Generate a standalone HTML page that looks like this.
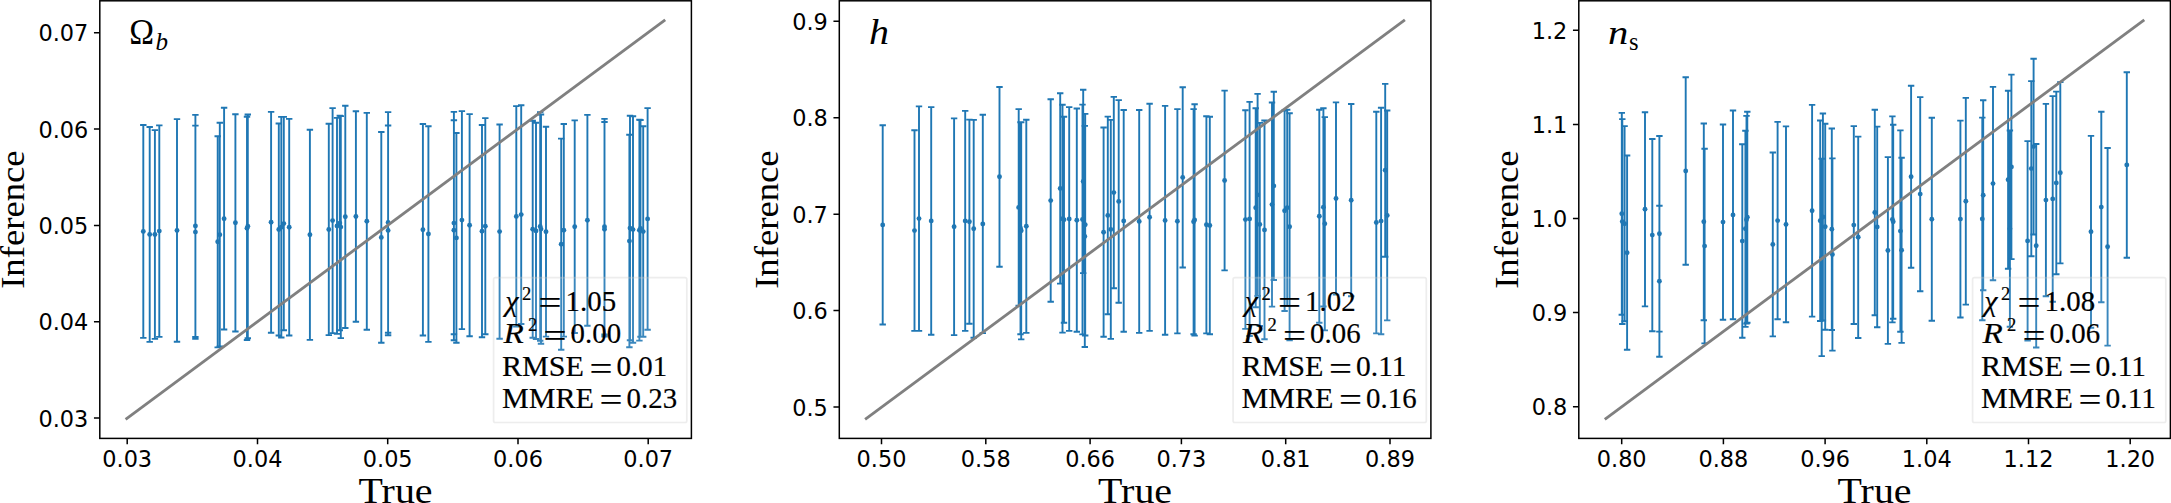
<!DOCTYPE html>
<html><head><meta charset="utf-8"><title>Inference vs True</title>
<style>html,body{margin:0;padding:0;background:#fff}svg{display:block}</style>
</head><body>
<svg width="2171" height="503" viewBox="0 0 2171 503">
<rect width="2171" height="503" fill="#fff"/>
<g>
<path d="M143.3 125.0V337.9M149.7 127.0V341.9M154.9 130.1V338.9M159.3 125.4V336.9M177.0 119.1V341.7M195.4 114.9V336.9M195.4 125.6V338.7M217.7 136.2V347.4M219.8 122.8V346.5M224.1 107.8V329.5M235.4 114.2V331.5M247.0 116.7V340.0M247.8 114.5V338.2M271.1 111.9V332.7M278.8 123.5V335.5M281.3 116.9V337.5M283.8 116.9V330.2M289.2 118.9V335.5M309.9 129.8V339.9M328.8 123.8V335.1M332.6 108.1V333.1M337.0 117.9V333.9M339.8 115.8V330.3M340.8 116.1V338.1M345.3 105.7V328.0M355.9 111.3V321.7M366.8 112.9V329.7M381.3 132.0V342.8M388.1 112.1V332.7M388.1 125.5V335.3M422.9 124.0V335.5M428.4 126.2V341.9M453.9 111.9V334.2M453.9 120.3V340.3M456.4 133.0V342.8M461.9 111.1V329.1M469.6 114.1V336.3M482.0 125.0V337.3M485.3 118.1V334.3M499.6 124.5V338.7M516.3 106.1V326.6M521.2 105.2V324.0M532.7 120.8V337.7M536.0 122.8V339.0M540.2 112.1V340.8M541.0 114.5V343.7M546.0 126.7V336.6M561.2 138.6V349.8M563.8 124.0V336.6M574.7 120.4V333.0M587.4 114.9V325.7M604.5 118.9V334.5M604.5 122.0V336.5M629.4 134.8V347.3M630.0 115.8V340.3M633.0 116.3V342.8M639.4 119.7V340.6M640.5 120.0V336.8M643.2 126.3V336.8M647.6 108.1V329.7" stroke="#1f77b4" stroke-width="1.9" fill="none"/>
<path d="M140.10 125.0h6.4M140.10 337.9h6.4M146.50 127.0h6.4M146.50 341.9h6.4M151.70 130.1h6.4M151.70 338.9h6.4M156.10 125.4h6.4M156.10 336.9h6.4M173.80 119.1h6.4M173.80 341.7h6.4M192.20 114.9h6.4M192.20 336.9h6.4M192.20 125.6h6.4M192.20 338.7h6.4M214.50 136.2h6.4M214.50 347.4h6.4M216.60 122.8h6.4M216.60 346.5h6.4M220.90 107.8h6.4M220.90 329.5h6.4M232.20 114.2h6.4M232.20 331.5h6.4M243.80 116.7h6.4M243.80 340.0h6.4M244.60 114.5h6.4M244.60 338.2h6.4M267.90 111.9h6.4M267.90 332.7h6.4M275.60 123.5h6.4M275.60 335.5h6.4M278.10 116.9h6.4M278.10 337.5h6.4M280.60 116.9h6.4M280.60 330.2h6.4M286.00 118.9h6.4M286.00 335.5h6.4M306.70 129.8h6.4M306.70 339.9h6.4M325.60 123.8h6.4M325.60 335.1h6.4M329.40 108.1h6.4M329.40 333.1h6.4M333.80 117.9h6.4M333.80 333.9h6.4M336.60 115.8h6.4M336.60 330.3h6.4M337.60 116.1h6.4M337.60 338.1h6.4M342.10 105.7h6.4M342.10 328.0h6.4M352.70 111.3h6.4M352.70 321.7h6.4M363.60 112.9h6.4M363.60 329.7h6.4M378.10 132.0h6.4M378.10 342.8h6.4M384.90 112.1h6.4M384.90 332.7h6.4M384.90 125.5h6.4M384.90 335.3h6.4M419.70 124.0h6.4M419.70 335.5h6.4M425.20 126.2h6.4M425.20 341.9h6.4M450.70 111.9h6.4M450.70 334.2h6.4M450.70 120.3h6.4M450.70 340.3h6.4M453.20 133.0h6.4M453.20 342.8h6.4M458.70 111.1h6.4M458.70 329.1h6.4M466.40 114.1h6.4M466.40 336.3h6.4M478.80 125.0h6.4M478.80 337.3h6.4M482.10 118.1h6.4M482.10 334.3h6.4M496.40 124.5h6.4M496.40 338.7h6.4M513.10 106.1h6.4M513.10 326.6h6.4M518.00 105.2h6.4M518.00 324.0h6.4M529.50 120.8h6.4M529.50 337.7h6.4M532.80 122.8h6.4M532.80 339.0h6.4M537.00 112.1h6.4M537.00 340.8h6.4M537.80 114.5h6.4M537.80 343.7h6.4M542.80 126.7h6.4M542.80 336.6h6.4M558.00 138.6h6.4M558.00 349.8h6.4M560.60 124.0h6.4M560.60 336.6h6.4M571.50 120.4h6.4M571.50 333.0h6.4M584.20 114.9h6.4M584.20 325.7h6.4M601.30 118.9h6.4M601.30 334.5h6.4M601.30 122.0h6.4M601.30 336.5h6.4M626.20 134.8h6.4M626.20 347.3h6.4M626.80 115.8h6.4M626.80 340.3h6.4M629.80 116.3h6.4M629.80 342.8h6.4M636.20 119.7h6.4M636.20 340.6h6.4M637.30 120.0h6.4M637.30 336.8h6.4M640.00 126.3h6.4M640.00 336.8h6.4M644.40 108.1h6.4M644.40 329.7h6.4" stroke="#1f77b4" stroke-width="1.9" fill="none"/>
<g fill="#1f77b4"><circle cx="143.3" cy="231.4" r="2.45"/><circle cx="149.7" cy="234.4" r="2.45"/><circle cx="154.9" cy="234.5" r="2.45"/><circle cx="159.3" cy="231.1" r="2.45"/><circle cx="177.0" cy="230.4" r="2.45"/><circle cx="195.4" cy="225.9" r="2.45"/><circle cx="195.4" cy="232.1" r="2.45"/><circle cx="217.7" cy="241.8" r="2.45"/><circle cx="219.8" cy="234.7" r="2.45"/><circle cx="224.1" cy="218.7" r="2.45"/><circle cx="235.4" cy="222.8" r="2.45"/><circle cx="247.0" cy="228.3" r="2.45"/><circle cx="247.8" cy="226.3" r="2.45"/><circle cx="271.1" cy="222.3" r="2.45"/><circle cx="278.8" cy="229.5" r="2.45"/><circle cx="281.3" cy="227.2" r="2.45"/><circle cx="283.8" cy="223.6" r="2.45"/><circle cx="289.2" cy="227.2" r="2.45"/><circle cx="309.9" cy="234.8" r="2.45"/><circle cx="328.8" cy="229.5" r="2.45"/><circle cx="332.6" cy="220.6" r="2.45"/><circle cx="337.0" cy="225.9" r="2.45"/><circle cx="339.8" cy="223.1" r="2.45"/><circle cx="340.8" cy="227.1" r="2.45"/><circle cx="345.3" cy="216.8" r="2.45"/><circle cx="355.9" cy="216.5" r="2.45"/><circle cx="366.8" cy="221.3" r="2.45"/><circle cx="381.3" cy="237.4" r="2.45"/><circle cx="388.1" cy="222.4" r="2.45"/><circle cx="388.1" cy="230.4" r="2.45"/><circle cx="422.9" cy="229.8" r="2.45"/><circle cx="428.4" cy="234.0" r="2.45"/><circle cx="453.9" cy="223.1" r="2.45"/><circle cx="453.9" cy="230.3" r="2.45"/><circle cx="456.4" cy="237.9" r="2.45"/><circle cx="461.9" cy="220.1" r="2.45"/><circle cx="469.6" cy="225.2" r="2.45"/><circle cx="482.0" cy="231.2" r="2.45"/><circle cx="485.3" cy="226.2" r="2.45"/><circle cx="499.6" cy="231.6" r="2.45"/><circle cx="516.3" cy="216.4" r="2.45"/><circle cx="521.2" cy="214.6" r="2.45"/><circle cx="532.7" cy="229.2" r="2.45"/><circle cx="536.0" cy="230.9" r="2.45"/><circle cx="540.2" cy="226.4" r="2.45"/><circle cx="541.0" cy="229.1" r="2.45"/><circle cx="546.0" cy="231.7" r="2.45"/><circle cx="561.2" cy="244.2" r="2.45"/><circle cx="563.8" cy="230.3" r="2.45"/><circle cx="574.7" cy="226.7" r="2.45"/><circle cx="587.4" cy="220.3" r="2.45"/><circle cx="604.5" cy="226.7" r="2.45"/><circle cx="604.5" cy="229.2" r="2.45"/><circle cx="629.4" cy="241.1" r="2.45"/><circle cx="630.0" cy="228.1" r="2.45"/><circle cx="633.0" cy="229.6" r="2.45"/><circle cx="639.4" cy="230.2" r="2.45"/><circle cx="640.5" cy="228.4" r="2.45"/><circle cx="643.2" cy="231.6" r="2.45"/><circle cx="647.6" cy="218.9" r="2.45"/></g>
<line x1="125.6" y1="419.3" x2="665.2" y2="19.9" stroke="#808080" stroke-width="2.85" stroke-linecap="butt"/>
<rect x="493.6" y="277.7" width="193.2" height="144.8" rx="1.8" fill="#fff" fill-opacity="0.12" stroke="#cccccc" stroke-opacity="0.36" stroke-width="1.7"/>
<rect x="99.80" y="0.8" width="591.60" height="437.60" fill="none" stroke="#000" stroke-width="1.5"/>
<path d="M127.20 438.4v5.85M257.50 438.4v5.85M387.70 438.4v5.85M518.00 438.4v5.85M648.20 438.4v5.85M99.80 32.70h-5.85M99.80 129.05h-5.85M99.80 225.40h-5.85M99.80 321.75h-5.85M99.80 418.10h-5.85" stroke="#000" stroke-width="1.5" fill="none"/>
<text x="127.20" y="467.20" font-size="22.4" font-family="'DejaVu Sans', 'Liberation Sans', sans-serif" text-anchor="middle">0.03</text>
<text x="257.50" y="467.20" font-size="22.4" font-family="'DejaVu Sans', 'Liberation Sans', sans-serif" text-anchor="middle">0.04</text>
<text x="387.70" y="467.20" font-size="22.4" font-family="'DejaVu Sans', 'Liberation Sans', sans-serif" text-anchor="middle">0.05</text>
<text x="518.00" y="467.20" font-size="22.4" font-family="'DejaVu Sans', 'Liberation Sans', sans-serif" text-anchor="middle">0.06</text>
<text x="648.20" y="467.20" font-size="22.4" font-family="'DejaVu Sans', 'Liberation Sans', sans-serif" text-anchor="middle">0.07</text>
<text x="88.30" y="41.20" font-size="22.4" font-family="'DejaVu Sans', 'Liberation Sans', sans-serif" text-anchor="end">0.07</text>
<text x="88.30" y="137.55" font-size="22.4" font-family="'DejaVu Sans', 'Liberation Sans', sans-serif" text-anchor="end">0.06</text>
<text x="88.30" y="233.90" font-size="22.4" font-family="'DejaVu Sans', 'Liberation Sans', sans-serif" text-anchor="end">0.05</text>
<text x="88.30" y="330.25" font-size="22.4" font-family="'DejaVu Sans', 'Liberation Sans', sans-serif" text-anchor="end">0.04</text>
<text x="88.30" y="426.60" font-size="22.4" font-family="'DejaVu Sans', 'Liberation Sans', sans-serif" text-anchor="end">0.03</text>
<text x="395.60" y="503.00" font-size="35.0" font-family="'Liberation Serif', serif" text-anchor="middle" textLength="74.00" lengthAdjust="spacingAndGlyphs">True</text>
<text transform="translate(24.30 219.6) rotate(-90)" font-size="34.2" font-family="'Liberation Serif', serif" text-anchor="middle" textLength="138.5" lengthAdjust="spacingAndGlyphs">Inference</text>
<text x="505.20" y="310.60" font-size="28.6" font-family="'Liberation Serif', serif" text-anchor="start" font-style="italic" textLength="13.30" lengthAdjust="spacingAndGlyphs" stroke="#000" stroke-width="0.18">χ</text>
<text x="522.00" y="299.90" font-size="18.6" font-family="'Liberation Serif', serif" text-anchor="start" stroke="#000" stroke-width="0.18">2</text>
<text x="538.40" y="314.40" font-size="33" font-family="'Liberation Serif', serif" text-anchor="start" textLength="23.00" lengthAdjust="spacingAndGlyphs" stroke="#000" stroke-width="0.18">=</text>
<text x="565.60" y="310.60" font-size="28.6" font-family="'Liberation Serif', serif" text-anchor="start" textLength="50.50" lengthAdjust="spacingAndGlyphs" stroke="#000" stroke-width="0.18">1.05</text>
<text x="503.40" y="343.30" font-size="29" font-family="'Liberation Serif', serif" text-anchor="start" font-style="italic" textLength="20.30" lengthAdjust="spacingAndGlyphs" stroke="#000" stroke-width="0.18">R</text>
<text x="528.00" y="331.20" font-size="18.6" font-family="'Liberation Serif', serif" text-anchor="start" stroke="#000" stroke-width="0.18">2</text>
<text x="543.50" y="347.10" font-size="33" font-family="'Liberation Serif', serif" text-anchor="start" textLength="23.00" lengthAdjust="spacingAndGlyphs" stroke="#000" stroke-width="0.18">=</text>
<text x="570.60" y="343.30" font-size="28.6" font-family="'Liberation Serif', serif" text-anchor="start" textLength="50.50" lengthAdjust="spacingAndGlyphs" stroke="#000" stroke-width="0.18">0.00</text>
<text x="502.00" y="376.00" font-size="28.6" font-family="'Liberation Serif', serif" text-anchor="start" textLength="82.00" lengthAdjust="spacingAndGlyphs" stroke="#000" stroke-width="0.18">RMSE</text>
<text x="589.60" y="379.80" font-size="33" font-family="'Liberation Serif', serif" text-anchor="start" textLength="23.00" lengthAdjust="spacingAndGlyphs" stroke="#000" stroke-width="0.18">=</text>
<text x="616.60" y="376.00" font-size="28.6" font-family="'Liberation Serif', serif" text-anchor="start" textLength="50.50" lengthAdjust="spacingAndGlyphs" stroke="#000" stroke-width="0.18">0.01</text>
<text x="502.00" y="407.60" font-size="28.6" font-family="'Liberation Serif', serif" text-anchor="start" textLength="92.00" lengthAdjust="spacingAndGlyphs" stroke="#000" stroke-width="0.18">MMRE</text>
<text x="599.40" y="411.40" font-size="33" font-family="'Liberation Serif', serif" text-anchor="start" textLength="23.00" lengthAdjust="spacingAndGlyphs" stroke="#000" stroke-width="0.18">=</text>
<text x="626.60" y="407.60" font-size="28.6" font-family="'Liberation Serif', serif" text-anchor="start" textLength="50.50" lengthAdjust="spacingAndGlyphs" stroke="#000" stroke-width="0.18">0.23</text>
</g>
<g>
<path d="M882.7 125.3V324.5M914.5 130.3V330.9M919.0 106.4V330.9M931.2 107.1V334.8M954.1 118.4V335.1M965.2 110.9V330.9M969.4 119.6V323.8M973.7 119.9V337.7M982.8 114.8V333.1M999.5 87.0V266.7M1018.7 109.1V305.6M1020.5 122.3V334.3M1021.2 122.3V339.4M1026.3 119.7V332.9M1050.7 99.3V301.8M1060.2 93.2V283.6M1062.5 104.7V332.6M1064.0 116.7V322.8M1069.2 107.1V330.9M1076.8 108.5V331.8M1083.2 89.7V273.1M1082.5 104.6V334.4M1085.2 113.9V335.5M1084.8 125.9V347.0M1103.6 127.5V336.8M1107.8 116.6V314.3M1110.8 119.9V338.9M1113.8 96.9V288.2M1118.7 100.1V302.7M1123.7 110.0V331.8M1139.2 110.0V332.9M1149.6 103.7V330.9M1165.1 105.9V334.8M1177.4 109.1V333.4M1182.7 87.3V267.5M1193.6 109.1V334.3M1194.6 104.3V335.6M1206.4 116.3V333.4M1209.8 116.7V334.3M1224.6 90.6V270.4M1245.4 110.3V328.9M1249.6 101.9V336.0M1255.7 108.3V307.3M1257.6 93.9V295.9M1259.8 122.9V326.0M1264.5 120.5V339.3M1272.0 102.5V306.6M1273.8 91.8V280.0M1284.6 110.5V311.0M1287.2 109.7V305.9M1289.6 113.3V340.4M1319.3 109.8V322.8M1323.4 108.2V306.5M1324.8 117.1V330.4M1336.0 102.4V294.6M1351.2 104.0V296.3M1376.3 111.7V333.4M1381.1 107.8V334.3M1385.2 83.9V256.7M1387.2 110.5V320.4" stroke="#1f77b4" stroke-width="1.9" fill="none"/>
<path d="M879.50 125.3h6.4M879.50 324.5h6.4M911.30 130.3h6.4M911.30 330.9h6.4M915.80 106.4h6.4M915.80 330.9h6.4M928.00 107.1h6.4M928.00 334.8h6.4M950.90 118.4h6.4M950.90 335.1h6.4M962.00 110.9h6.4M962.00 330.9h6.4M966.20 119.6h6.4M966.20 323.8h6.4M970.50 119.9h6.4M970.50 337.7h6.4M979.60 114.8h6.4M979.60 333.1h6.4M996.30 87.0h6.4M996.30 266.7h6.4M1015.50 109.1h6.4M1015.50 305.6h6.4M1017.30 122.3h6.4M1017.30 334.3h6.4M1018.00 122.3h6.4M1018.00 339.4h6.4M1023.10 119.7h6.4M1023.10 332.9h6.4M1047.50 99.3h6.4M1047.50 301.8h6.4M1057.00 93.2h6.4M1057.00 283.6h6.4M1059.30 104.7h6.4M1059.30 332.6h6.4M1060.80 116.7h6.4M1060.80 322.8h6.4M1066.00 107.1h6.4M1066.00 330.9h6.4M1073.60 108.5h6.4M1073.60 331.8h6.4M1080.00 89.7h6.4M1080.00 273.1h6.4M1079.30 104.6h6.4M1079.30 334.4h6.4M1082.00 113.9h6.4M1082.00 335.5h6.4M1081.60 125.9h6.4M1081.60 347.0h6.4M1100.40 127.5h6.4M1100.40 336.8h6.4M1104.60 116.6h6.4M1104.60 314.3h6.4M1107.60 119.9h6.4M1107.60 338.9h6.4M1110.60 96.9h6.4M1110.60 288.2h6.4M1115.50 100.1h6.4M1115.50 302.7h6.4M1120.50 110.0h6.4M1120.50 331.8h6.4M1136.00 110.0h6.4M1136.00 332.9h6.4M1146.40 103.7h6.4M1146.40 330.9h6.4M1161.90 105.9h6.4M1161.90 334.8h6.4M1174.20 109.1h6.4M1174.20 333.4h6.4M1179.50 87.3h6.4M1179.50 267.5h6.4M1190.40 109.1h6.4M1190.40 334.3h6.4M1191.40 104.3h6.4M1191.40 335.6h6.4M1203.20 116.3h6.4M1203.20 333.4h6.4M1206.60 116.7h6.4M1206.60 334.3h6.4M1221.40 90.6h6.4M1221.40 270.4h6.4M1242.20 110.3h6.4M1242.20 328.9h6.4M1246.40 101.9h6.4M1246.40 336.0h6.4M1252.50 108.3h6.4M1252.50 307.3h6.4M1254.40 93.9h6.4M1254.40 295.9h6.4M1256.60 122.9h6.4M1256.60 326.0h6.4M1261.30 120.5h6.4M1261.30 339.3h6.4M1268.80 102.5h6.4M1268.80 306.6h6.4M1270.60 91.8h6.4M1270.60 280.0h6.4M1281.40 110.5h6.4M1281.40 311.0h6.4M1284.00 109.7h6.4M1284.00 305.9h6.4M1286.40 113.3h6.4M1286.40 340.4h6.4M1316.10 109.8h6.4M1316.10 322.8h6.4M1320.20 108.2h6.4M1320.20 306.5h6.4M1321.60 117.1h6.4M1321.60 330.4h6.4M1332.80 102.4h6.4M1332.80 294.6h6.4M1348.00 104.0h6.4M1348.00 296.3h6.4M1373.10 111.7h6.4M1373.10 333.4h6.4M1377.90 107.8h6.4M1377.90 334.3h6.4M1382.00 83.9h6.4M1382.00 256.7h6.4M1384.00 110.5h6.4M1384.00 320.4h6.4" stroke="#1f77b4" stroke-width="1.9" fill="none"/>
<g fill="#1f77b4"><circle cx="882.7" cy="224.9" r="2.45"/><circle cx="914.5" cy="230.6" r="2.45"/><circle cx="919.0" cy="218.6" r="2.45"/><circle cx="931.2" cy="220.9" r="2.45"/><circle cx="954.1" cy="226.8" r="2.45"/><circle cx="965.2" cy="220.9" r="2.45"/><circle cx="969.4" cy="221.7" r="2.45"/><circle cx="973.7" cy="228.8" r="2.45"/><circle cx="982.8" cy="224.0" r="2.45"/><circle cx="999.5" cy="176.8" r="2.45"/><circle cx="1018.7" cy="207.4" r="2.45"/><circle cx="1020.5" cy="228.3" r="2.45"/><circle cx="1021.2" cy="230.8" r="2.45"/><circle cx="1026.3" cy="226.3" r="2.45"/><circle cx="1050.7" cy="200.6" r="2.45"/><circle cx="1060.2" cy="188.4" r="2.45"/><circle cx="1062.5" cy="218.7" r="2.45"/><circle cx="1064.0" cy="219.8" r="2.45"/><circle cx="1069.2" cy="219.0" r="2.45"/><circle cx="1076.8" cy="220.2" r="2.45"/><circle cx="1083.2" cy="181.4" r="2.45"/><circle cx="1082.5" cy="219.5" r="2.45"/><circle cx="1085.2" cy="224.7" r="2.45"/><circle cx="1084.8" cy="236.4" r="2.45"/><circle cx="1103.6" cy="232.2" r="2.45"/><circle cx="1107.8" cy="215.4" r="2.45"/><circle cx="1110.8" cy="229.4" r="2.45"/><circle cx="1113.8" cy="192.6" r="2.45"/><circle cx="1118.7" cy="201.4" r="2.45"/><circle cx="1123.7" cy="220.9" r="2.45"/><circle cx="1139.2" cy="221.4" r="2.45"/><circle cx="1149.6" cy="217.3" r="2.45"/><circle cx="1165.1" cy="220.4" r="2.45"/><circle cx="1177.4" cy="221.2" r="2.45"/><circle cx="1182.7" cy="177.4" r="2.45"/><circle cx="1193.6" cy="221.7" r="2.45"/><circle cx="1194.6" cy="220.0" r="2.45"/><circle cx="1206.4" cy="224.8" r="2.45"/><circle cx="1209.8" cy="225.5" r="2.45"/><circle cx="1224.6" cy="180.5" r="2.45"/><circle cx="1245.4" cy="219.6" r="2.45"/><circle cx="1249.6" cy="218.9" r="2.45"/><circle cx="1255.7" cy="207.8" r="2.45"/><circle cx="1257.6" cy="194.9" r="2.45"/><circle cx="1259.8" cy="224.4" r="2.45"/><circle cx="1264.5" cy="229.9" r="2.45"/><circle cx="1272.0" cy="204.6" r="2.45"/><circle cx="1273.8" cy="185.9" r="2.45"/><circle cx="1284.6" cy="210.8" r="2.45"/><circle cx="1287.2" cy="207.8" r="2.45"/><circle cx="1289.6" cy="226.8" r="2.45"/><circle cx="1319.3" cy="216.3" r="2.45"/><circle cx="1323.4" cy="207.3" r="2.45"/><circle cx="1324.8" cy="223.8" r="2.45"/><circle cx="1336.0" cy="198.5" r="2.45"/><circle cx="1351.2" cy="200.2" r="2.45"/><circle cx="1376.3" cy="222.5" r="2.45"/><circle cx="1381.1" cy="221.1" r="2.45"/><circle cx="1385.2" cy="170.3" r="2.45"/><circle cx="1387.2" cy="215.4" r="2.45"/></g>
<line x1="865.1" y1="419.3" x2="1404.9" y2="19.9" stroke="#808080" stroke-width="2.85" stroke-linecap="butt"/>
<rect x="1233.1" y="277.7" width="193.2" height="144.8" rx="1.8" fill="#fff" fill-opacity="0.12" stroke="#cccccc" stroke-opacity="0.36" stroke-width="1.7"/>
<rect x="839.30" y="0.8" width="591.60" height="437.60" fill="none" stroke="#000" stroke-width="1.5"/>
<path d="M881.50 438.4v5.85M985.80 438.4v5.85M1090.10 438.4v5.85M1181.40 438.4v5.85M1285.70 438.4v5.85M1390.00 438.4v5.85M839.30 21.20h-5.85M839.30 117.70h-5.85M839.30 214.20h-5.85M839.30 310.60h-5.85M839.30 407.10h-5.85" stroke="#000" stroke-width="1.5" fill="none"/>
<text x="881.50" y="467.20" font-size="22.4" font-family="'DejaVu Sans', 'Liberation Sans', sans-serif" text-anchor="middle">0.50</text>
<text x="985.80" y="467.20" font-size="22.4" font-family="'DejaVu Sans', 'Liberation Sans', sans-serif" text-anchor="middle">0.58</text>
<text x="1090.10" y="467.20" font-size="22.4" font-family="'DejaVu Sans', 'Liberation Sans', sans-serif" text-anchor="middle">0.66</text>
<text x="1181.40" y="467.20" font-size="22.4" font-family="'DejaVu Sans', 'Liberation Sans', sans-serif" text-anchor="middle">0.73</text>
<text x="1285.70" y="467.20" font-size="22.4" font-family="'DejaVu Sans', 'Liberation Sans', sans-serif" text-anchor="middle">0.81</text>
<text x="1390.00" y="467.20" font-size="22.4" font-family="'DejaVu Sans', 'Liberation Sans', sans-serif" text-anchor="middle">0.89</text>
<text x="827.80" y="29.70" font-size="22.4" font-family="'DejaVu Sans', 'Liberation Sans', sans-serif" text-anchor="end">0.9</text>
<text x="827.80" y="126.20" font-size="22.4" font-family="'DejaVu Sans', 'Liberation Sans', sans-serif" text-anchor="end">0.8</text>
<text x="827.80" y="222.70" font-size="22.4" font-family="'DejaVu Sans', 'Liberation Sans', sans-serif" text-anchor="end">0.7</text>
<text x="827.80" y="319.10" font-size="22.4" font-family="'DejaVu Sans', 'Liberation Sans', sans-serif" text-anchor="end">0.6</text>
<text x="827.80" y="415.60" font-size="22.4" font-family="'DejaVu Sans', 'Liberation Sans', sans-serif" text-anchor="end">0.5</text>
<text x="1135.10" y="503.00" font-size="35.0" font-family="'Liberation Serif', serif" text-anchor="middle" textLength="74.00" lengthAdjust="spacingAndGlyphs">True</text>
<text transform="translate(778.10 219.6) rotate(-90)" font-size="34.2" font-family="'Liberation Serif', serif" text-anchor="middle" textLength="138.5" lengthAdjust="spacingAndGlyphs">Inference</text>
<text x="1244.70" y="310.60" font-size="28.6" font-family="'Liberation Serif', serif" text-anchor="start" font-style="italic" textLength="13.30" lengthAdjust="spacingAndGlyphs" stroke="#000" stroke-width="0.18">χ</text>
<text x="1261.50" y="299.90" font-size="18.6" font-family="'Liberation Serif', serif" text-anchor="start" stroke="#000" stroke-width="0.18">2</text>
<text x="1277.90" y="314.40" font-size="33" font-family="'Liberation Serif', serif" text-anchor="start" textLength="23.00" lengthAdjust="spacingAndGlyphs" stroke="#000" stroke-width="0.18">=</text>
<text x="1305.10" y="310.60" font-size="28.6" font-family="'Liberation Serif', serif" text-anchor="start" textLength="50.50" lengthAdjust="spacingAndGlyphs" stroke="#000" stroke-width="0.18">1.02</text>
<text x="1242.90" y="343.30" font-size="29" font-family="'Liberation Serif', serif" text-anchor="start" font-style="italic" textLength="20.30" lengthAdjust="spacingAndGlyphs" stroke="#000" stroke-width="0.18">R</text>
<text x="1267.50" y="331.20" font-size="18.6" font-family="'Liberation Serif', serif" text-anchor="start" stroke="#000" stroke-width="0.18">2</text>
<text x="1283.00" y="347.10" font-size="33" font-family="'Liberation Serif', serif" text-anchor="start" textLength="23.00" lengthAdjust="spacingAndGlyphs" stroke="#000" stroke-width="0.18">=</text>
<text x="1310.10" y="343.30" font-size="28.6" font-family="'Liberation Serif', serif" text-anchor="start" textLength="50.50" lengthAdjust="spacingAndGlyphs" stroke="#000" stroke-width="0.18">0.06</text>
<text x="1241.50" y="376.00" font-size="28.6" font-family="'Liberation Serif', serif" text-anchor="start" textLength="82.00" lengthAdjust="spacingAndGlyphs" stroke="#000" stroke-width="0.18">RMSE</text>
<text x="1329.10" y="379.80" font-size="33" font-family="'Liberation Serif', serif" text-anchor="start" textLength="23.00" lengthAdjust="spacingAndGlyphs" stroke="#000" stroke-width="0.18">=</text>
<text x="1356.10" y="376.00" font-size="28.6" font-family="'Liberation Serif', serif" text-anchor="start" textLength="50.50" lengthAdjust="spacingAndGlyphs" stroke="#000" stroke-width="0.18">0.11</text>
<text x="1241.50" y="407.60" font-size="28.6" font-family="'Liberation Serif', serif" text-anchor="start" textLength="92.00" lengthAdjust="spacingAndGlyphs" stroke="#000" stroke-width="0.18">MMRE</text>
<text x="1338.90" y="411.40" font-size="33" font-family="'Liberation Serif', serif" text-anchor="start" textLength="23.00" lengthAdjust="spacingAndGlyphs" stroke="#000" stroke-width="0.18">=</text>
<text x="1366.10" y="407.60" font-size="28.6" font-family="'Liberation Serif', serif" text-anchor="start" textLength="50.50" lengthAdjust="spacingAndGlyphs" stroke="#000" stroke-width="0.18">0.16</text>
</g>
<g>
<path d="M1621.8 112.9V314.7M1622.3 119.1V324.0M1624.6 126.1V321.3M1627.1 155.5V349.8M1645.0 112.3V306.4M1652.3 139.0V331.2M1659.4 136.0V331.6M1659.4 205.8V356.7M1685.7 77.3V264.7M1703.8 123.5V320.2M1704.6 148.8V343.4M1723.0 124.5V319.7M1733.0 110.5V319.3M1742.3 144.3V337.8M1745.4 130.8V326.9M1746.5 115.9V323.5M1747.3 111.7V322.8M1772.8 152.5V336.4M1777.6 121.9V319.3M1786.0 126.4V322.3M1812.1 104.9V316.6M1820.2 120.5V321.0M1821.7 158.7V356.1M1822.9 113.5V320.5M1825.2 123.8V329.8M1831.8 128.5V330.0M1832.4 158.4V350.6M1853.8 126.1V324.0M1858.2 136.6V338.0M1874.8 109.7V315.3M1877.2 126.6V327.3M1887.9 157.1V343.9M1892.4 116.4V322.4M1893.2 124.8V318.8M1900.4 130.4V331.7M1901.6 157.8V342.9M1911.1 85.7V267.8M1920.2 97.1V291.2M1931.8 117.8V320.8M1960.4 120.6V317.5M1965.8 97.9V304.6M1982.3 117.6V320.3M1983.2 100.3V290.2M1993.0 86.9V280.3M2008.1 90.7V268.8M2009.9 130.5V326.8M2011.4 74.6V259.1M2027.6 141.1V340.6M2031.3 81.1V256.2M2033.6 58.7V234.5M2036.2 144.0V347.5M2045.9 103.9V296.3M2052.7 96.1V301.8M2056.3 91.6V274.3M2060.3 82.1V263.4M2091.0 135.9V327.7M2101.3 111.8V302.3M2107.6 148.0V345.6M2126.8 72.2V257.7" stroke="#1f77b4" stroke-width="1.9" fill="none"/>
<path d="M1618.60 112.9h6.4M1618.60 314.7h6.4M1619.10 119.1h6.4M1619.10 324.0h6.4M1621.40 126.1h6.4M1621.40 321.3h6.4M1623.90 155.5h6.4M1623.90 349.8h6.4M1641.80 112.3h6.4M1641.80 306.4h6.4M1649.10 139.0h6.4M1649.10 331.2h6.4M1656.20 136.0h6.4M1656.20 331.6h6.4M1656.20 205.8h6.4M1656.20 356.7h6.4M1682.50 77.3h6.4M1682.50 264.7h6.4M1700.60 123.5h6.4M1700.60 320.2h6.4M1701.40 148.8h6.4M1701.40 343.4h6.4M1719.80 124.5h6.4M1719.80 319.7h6.4M1729.80 110.5h6.4M1729.80 319.3h6.4M1739.10 144.3h6.4M1739.10 337.8h6.4M1742.20 130.8h6.4M1742.20 326.9h6.4M1743.30 115.9h6.4M1743.30 323.5h6.4M1744.10 111.7h6.4M1744.10 322.8h6.4M1769.60 152.5h6.4M1769.60 336.4h6.4M1774.40 121.9h6.4M1774.40 319.3h6.4M1782.80 126.4h6.4M1782.80 322.3h6.4M1808.90 104.9h6.4M1808.90 316.6h6.4M1817.00 120.5h6.4M1817.00 321.0h6.4M1818.50 158.7h6.4M1818.50 356.1h6.4M1819.70 113.5h6.4M1819.70 320.5h6.4M1822.00 123.8h6.4M1822.00 329.8h6.4M1828.60 128.5h6.4M1828.60 330.0h6.4M1829.20 158.4h6.4M1829.20 350.6h6.4M1850.60 126.1h6.4M1850.60 324.0h6.4M1855.00 136.6h6.4M1855.00 338.0h6.4M1871.60 109.7h6.4M1871.60 315.3h6.4M1874.00 126.6h6.4M1874.00 327.3h6.4M1884.70 157.1h6.4M1884.70 343.9h6.4M1889.20 116.4h6.4M1889.20 322.4h6.4M1890.00 124.8h6.4M1890.00 318.8h6.4M1897.20 130.4h6.4M1897.20 331.7h6.4M1898.40 157.8h6.4M1898.40 342.9h6.4M1907.90 85.7h6.4M1907.90 267.8h6.4M1917.00 97.1h6.4M1917.00 291.2h6.4M1928.60 117.8h6.4M1928.60 320.8h6.4M1957.20 120.6h6.4M1957.20 317.5h6.4M1962.60 97.9h6.4M1962.60 304.6h6.4M1979.10 117.6h6.4M1979.10 320.3h6.4M1980.00 100.3h6.4M1980.00 290.2h6.4M1989.80 86.9h6.4M1989.80 280.3h6.4M2004.90 90.7h6.4M2004.90 268.8h6.4M2006.70 130.5h6.4M2006.70 326.8h6.4M2008.20 74.6h6.4M2008.20 259.1h6.4M2024.40 141.1h6.4M2024.40 340.6h6.4M2028.10 81.1h6.4M2028.10 256.2h6.4M2030.40 58.7h6.4M2030.40 234.5h6.4M2033.00 144.0h6.4M2033.00 347.5h6.4M2042.70 103.9h6.4M2042.70 296.3h6.4M2049.50 96.1h6.4M2049.50 301.8h6.4M2053.10 91.6h6.4M2053.10 274.3h6.4M2057.10 82.1h6.4M2057.10 263.4h6.4M2087.80 135.9h6.4M2087.80 327.7h6.4M2098.10 111.8h6.4M2098.10 302.3h6.4M2104.40 148.0h6.4M2104.40 345.6h6.4M2123.60 72.2h6.4M2123.60 257.7h6.4" stroke="#1f77b4" stroke-width="1.9" fill="none"/>
<g fill="#1f77b4"><circle cx="1621.8" cy="213.8" r="2.45"/><circle cx="1622.3" cy="221.6" r="2.45"/><circle cx="1624.6" cy="223.7" r="2.45"/><circle cx="1627.1" cy="252.7" r="2.45"/><circle cx="1645.0" cy="209.3" r="2.45"/><circle cx="1652.3" cy="235.1" r="2.45"/><circle cx="1659.4" cy="233.8" r="2.45"/><circle cx="1659.4" cy="281.2" r="2.45"/><circle cx="1685.7" cy="171.0" r="2.45"/><circle cx="1703.8" cy="221.8" r="2.45"/><circle cx="1704.6" cy="246.1" r="2.45"/><circle cx="1723.0" cy="222.1" r="2.45"/><circle cx="1733.0" cy="214.9" r="2.45"/><circle cx="1742.3" cy="241.1" r="2.45"/><circle cx="1745.4" cy="228.8" r="2.45"/><circle cx="1746.5" cy="219.7" r="2.45"/><circle cx="1747.3" cy="217.2" r="2.45"/><circle cx="1772.8" cy="244.4" r="2.45"/><circle cx="1777.6" cy="220.6" r="2.45"/><circle cx="1786.0" cy="224.4" r="2.45"/><circle cx="1812.1" cy="210.8" r="2.45"/><circle cx="1820.2" cy="220.8" r="2.45"/><circle cx="1821.7" cy="257.4" r="2.45"/><circle cx="1822.9" cy="217.0" r="2.45"/><circle cx="1825.2" cy="226.8" r="2.45"/><circle cx="1831.8" cy="229.2" r="2.45"/><circle cx="1832.4" cy="254.5" r="2.45"/><circle cx="1853.8" cy="225.1" r="2.45"/><circle cx="1858.2" cy="237.3" r="2.45"/><circle cx="1874.8" cy="212.5" r="2.45"/><circle cx="1877.2" cy="226.9" r="2.45"/><circle cx="1887.9" cy="250.5" r="2.45"/><circle cx="1892.4" cy="219.4" r="2.45"/><circle cx="1893.2" cy="221.8" r="2.45"/><circle cx="1900.4" cy="231.1" r="2.45"/><circle cx="1901.6" cy="250.3" r="2.45"/><circle cx="1911.1" cy="176.8" r="2.45"/><circle cx="1920.2" cy="194.1" r="2.45"/><circle cx="1931.8" cy="219.3" r="2.45"/><circle cx="1960.4" cy="219.1" r="2.45"/><circle cx="1965.8" cy="201.2" r="2.45"/><circle cx="1982.3" cy="218.9" r="2.45"/><circle cx="1983.2" cy="195.2" r="2.45"/><circle cx="1993.0" cy="183.6" r="2.45"/><circle cx="2008.1" cy="179.8" r="2.45"/><circle cx="2009.9" cy="228.7" r="2.45"/><circle cx="2011.4" cy="166.9" r="2.45"/><circle cx="2027.6" cy="240.9" r="2.45"/><circle cx="2031.3" cy="168.6" r="2.45"/><circle cx="2033.6" cy="146.6" r="2.45"/><circle cx="2036.2" cy="245.8" r="2.45"/><circle cx="2045.9" cy="200.1" r="2.45"/><circle cx="2052.7" cy="198.9" r="2.45"/><circle cx="2056.3" cy="182.9" r="2.45"/><circle cx="2060.3" cy="172.8" r="2.45"/><circle cx="2091.0" cy="231.8" r="2.45"/><circle cx="2101.3" cy="207.1" r="2.45"/><circle cx="2107.6" cy="246.8" r="2.45"/><circle cx="2126.8" cy="164.9" r="2.45"/></g>
<line x1="1604.8" y1="419.3" x2="2144.3" y2="19.9" stroke="#808080" stroke-width="2.85" stroke-linecap="butt"/>
<rect x="1972.6" y="277.7" width="193.2" height="144.8" rx="1.8" fill="#fff" fill-opacity="0.12" stroke="#cccccc" stroke-opacity="0.36" stroke-width="1.7"/>
<rect x="1578.80" y="0.8" width="591.60" height="437.60" fill="none" stroke="#000" stroke-width="1.5"/>
<path d="M1621.70 438.4v5.85M1723.40 438.4v5.85M1825.10 438.4v5.85M1926.80 438.4v5.85M2028.50 438.4v5.85M2130.20 438.4v5.85M1578.80 30.30h-5.85M1578.80 124.40h-5.85M1578.80 218.50h-5.85M1578.80 312.60h-5.85M1578.80 406.70h-5.85" stroke="#000" stroke-width="1.5" fill="none"/>
<text x="1621.70" y="467.20" font-size="22.4" font-family="'DejaVu Sans', 'Liberation Sans', sans-serif" text-anchor="middle">0.80</text>
<text x="1723.40" y="467.20" font-size="22.4" font-family="'DejaVu Sans', 'Liberation Sans', sans-serif" text-anchor="middle">0.88</text>
<text x="1825.10" y="467.20" font-size="22.4" font-family="'DejaVu Sans', 'Liberation Sans', sans-serif" text-anchor="middle">0.96</text>
<text x="1926.80" y="467.20" font-size="22.4" font-family="'DejaVu Sans', 'Liberation Sans', sans-serif" text-anchor="middle">1.04</text>
<text x="2028.50" y="467.20" font-size="22.4" font-family="'DejaVu Sans', 'Liberation Sans', sans-serif" text-anchor="middle">1.12</text>
<text x="2130.20" y="467.20" font-size="22.4" font-family="'DejaVu Sans', 'Liberation Sans', sans-serif" text-anchor="middle">1.20</text>
<text x="1567.30" y="38.80" font-size="22.4" font-family="'DejaVu Sans', 'Liberation Sans', sans-serif" text-anchor="end">1.2</text>
<text x="1567.30" y="132.90" font-size="22.4" font-family="'DejaVu Sans', 'Liberation Sans', sans-serif" text-anchor="end">1.1</text>
<text x="1567.30" y="227.00" font-size="22.4" font-family="'DejaVu Sans', 'Liberation Sans', sans-serif" text-anchor="end">1.0</text>
<text x="1567.30" y="321.10" font-size="22.4" font-family="'DejaVu Sans', 'Liberation Sans', sans-serif" text-anchor="end">0.9</text>
<text x="1567.30" y="415.20" font-size="22.4" font-family="'DejaVu Sans', 'Liberation Sans', sans-serif" text-anchor="end">0.8</text>
<text x="1874.60" y="503.00" font-size="35.0" font-family="'Liberation Serif', serif" text-anchor="middle" textLength="74.00" lengthAdjust="spacingAndGlyphs">True</text>
<text transform="translate(1517.60 219.6) rotate(-90)" font-size="34.2" font-family="'Liberation Serif', serif" text-anchor="middle" textLength="138.5" lengthAdjust="spacingAndGlyphs">Inference</text>
<text x="1984.20" y="310.60" font-size="28.6" font-family="'Liberation Serif', serif" text-anchor="start" font-style="italic" textLength="13.30" lengthAdjust="spacingAndGlyphs" stroke="#000" stroke-width="0.18">χ</text>
<text x="2001.00" y="299.90" font-size="18.6" font-family="'Liberation Serif', serif" text-anchor="start" stroke="#000" stroke-width="0.18">2</text>
<text x="2017.40" y="314.40" font-size="33" font-family="'Liberation Serif', serif" text-anchor="start" textLength="23.00" lengthAdjust="spacingAndGlyphs" stroke="#000" stroke-width="0.18">=</text>
<text x="2044.60" y="310.60" font-size="28.6" font-family="'Liberation Serif', serif" text-anchor="start" textLength="50.50" lengthAdjust="spacingAndGlyphs" stroke="#000" stroke-width="0.18">1.08</text>
<text x="1982.40" y="343.30" font-size="29" font-family="'Liberation Serif', serif" text-anchor="start" font-style="italic" textLength="20.30" lengthAdjust="spacingAndGlyphs" stroke="#000" stroke-width="0.18">R</text>
<text x="2007.00" y="331.20" font-size="18.6" font-family="'Liberation Serif', serif" text-anchor="start" stroke="#000" stroke-width="0.18">2</text>
<text x="2022.50" y="347.10" font-size="33" font-family="'Liberation Serif', serif" text-anchor="start" textLength="23.00" lengthAdjust="spacingAndGlyphs" stroke="#000" stroke-width="0.18">=</text>
<text x="2049.60" y="343.30" font-size="28.6" font-family="'Liberation Serif', serif" text-anchor="start" textLength="50.50" lengthAdjust="spacingAndGlyphs" stroke="#000" stroke-width="0.18">0.06</text>
<text x="1981.00" y="376.00" font-size="28.6" font-family="'Liberation Serif', serif" text-anchor="start" textLength="82.00" lengthAdjust="spacingAndGlyphs" stroke="#000" stroke-width="0.18">RMSE</text>
<text x="2068.60" y="379.80" font-size="33" font-family="'Liberation Serif', serif" text-anchor="start" textLength="23.00" lengthAdjust="spacingAndGlyphs" stroke="#000" stroke-width="0.18">=</text>
<text x="2095.60" y="376.00" font-size="28.6" font-family="'Liberation Serif', serif" text-anchor="start" textLength="50.50" lengthAdjust="spacingAndGlyphs" stroke="#000" stroke-width="0.18">0.11</text>
<text x="1981.00" y="407.60" font-size="28.6" font-family="'Liberation Serif', serif" text-anchor="start" textLength="92.00" lengthAdjust="spacingAndGlyphs" stroke="#000" stroke-width="0.18">MMRE</text>
<text x="2078.40" y="411.40" font-size="33" font-family="'Liberation Serif', serif" text-anchor="start" textLength="23.00" lengthAdjust="spacingAndGlyphs" stroke="#000" stroke-width="0.18">=</text>
<text x="2105.60" y="407.60" font-size="28.6" font-family="'Liberation Serif', serif" text-anchor="start" textLength="50.50" lengthAdjust="spacingAndGlyphs" stroke="#000" stroke-width="0.18">0.11</text>
</g>
<text x="129.30" y="44.30" font-size="35.5" font-family="'Liberation Serif', serif" text-anchor="start" textLength="24.80" lengthAdjust="spacingAndGlyphs">Ω</text>
<text x="155.60" y="49.60" font-size="25" font-family="'Liberation Serif', serif" text-anchor="start" font-style="italic">b</text>
<text x="868.90" y="43.80" font-size="35.5" font-family="'Liberation Serif', serif" text-anchor="start" font-style="italic" textLength="20.00" lengthAdjust="spacingAndGlyphs">h</text>
<text x="1608.00" y="44.10" font-size="33.5" font-family="'Liberation Serif', serif" text-anchor="start" font-style="italic" textLength="20.30" lengthAdjust="spacingAndGlyphs">n</text>
<text x="1629.00" y="50.30" font-size="24.5" font-family="'Liberation Serif', serif" text-anchor="start">s</text>
</svg>
</body></html>
